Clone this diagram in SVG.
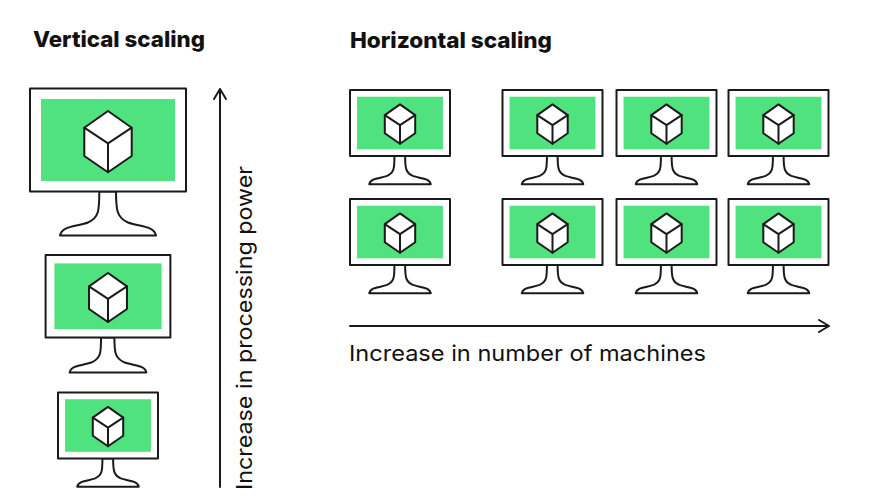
<svg xmlns="http://www.w3.org/2000/svg" width="878" height="500" viewBox="0 0 878 500">
<style>
.t{font-family:"Inter","Liberation Sans",sans-serif;fill:#111}
.h{font-size:22px;font-weight:800}
.l{font-size:21.500px;font-weight:400}
.k{fill:none;stroke:#1a1a1a;stroke-width:2;stroke-linejoin:round;stroke-linecap:round;vector-effect:non-scaling-stroke}
.f{fill:#fff}
.s{fill:#50e27f}
</style>
<defs>
<g id="monitor">
<path class="k f" d="M-8.700,103C-8.700,122-9,129-20,134C-30,138-46,137-48,147H48C46,137 30,138 20,134C9,129 8,122 8,103Z"/>
<rect class="k f" x="-78" y="0" width="156" height="103"/>
<rect class="s" x="-67" y="10.500" width="134" height="82"/>
<path class="k f" d="M0,22.500L23.700,39.200V67.500L0,83.800L-23.700,67.500V39.200Z"/>
<path class="k" d="M-23.700,39.200L0,54.800L23.700,39.200M0,54.800V83.800"/>
</g>
</defs>
<rect width="878" height="500" fill="#fff"/>
<text class="t h" x="33" y="47" textLength="172" lengthAdjust="spacingAndGlyphs">Vertical scaling</text>
<text class="t h" x="350" y="47.500" textLength="202" lengthAdjust="spacingAndGlyphs">Horizontal scaling</text>
<g id="v1"><use href="#monitor" transform="translate(108,88.500)"/></g>
<g id="v2"><use href="#monitor" transform="translate(108,255) scale(.8)"/></g>
<g id="v3"><use href="#monitor" transform="translate(108,392.500) scale(.641)"/></g>
<g id="h1"><use href="#monitor" transform="translate(400,90) scale(.641)"/></g>
<g id="h2"><use href="#monitor" transform="translate(552.500,90) scale(.641)"/></g>
<g id="h3"><use href="#monitor" transform="translate(666.500,90) scale(.641)"/></g>
<g id="h4"><use href="#monitor" transform="translate(778.500,90) scale(.641)"/></g>
<g id="h5"><use href="#monitor" transform="translate(400,199) scale(.641)"/></g>
<g id="h6"><use href="#monitor" transform="translate(552.500,199) scale(.641)"/></g>
<g id="h7"><use href="#monitor" transform="translate(666.500,199) scale(.641)"/></g>
<g id="h8"><use href="#monitor" transform="translate(778.500,199) scale(.641)"/></g>
<g id="connectors">
<path class="k" d="M220,487V89M214,99L220,89L226,99"/>
<path class="k" d="M350,326H829M819,320L829,326L819,332"/>
</g>
<text class="t l" x="349" y="360.500" textLength="357" lengthAdjust="spacingAndGlyphs">Increase in number of machines</text>
<text class="t l" transform="translate(252,490) rotate(-90)" textLength="324" lengthAdjust="spacingAndGlyphs">Increase in processing power</text>
</svg>
